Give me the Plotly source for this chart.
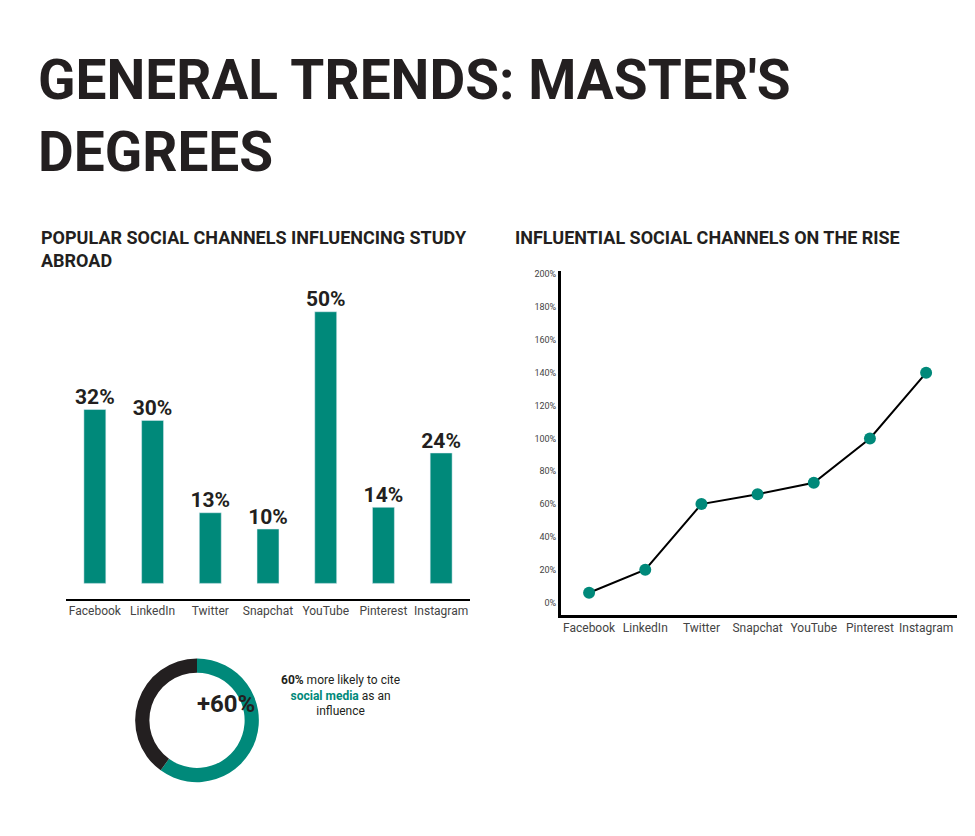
import plotly.graph_objects as go

W, H = 975, 836
TEAL = "#00897a"
INK = "#231f20"
FONT = "Roboto, Arial"

channels = ["Facebook", "LinkedIn", "Twitter", "Snapchat", "YouTube", "Pinterest", "Instagram"]
bar_values = [32, 30, 13, 10, 50, 14, 24]
rise_values = [6, 20, 60, 66, 73, 100, 140]
donut_values = [60, 40]
y_ticks = list(range(0, 201, 20))

# the page sits about 8px in from the window's corner
OFF = 8


def px_x(x):
    return (x - OFF) / W


def px_y(y):
    return 1 - (y - OFF) / H


fig = go.Figure()

fig.add_trace(go.Bar(
    x=channels, y=bar_values, marker_color=TEAL, width=0.38,
    xaxis="x", yaxis="y", showlegend=False,
))
fig.add_trace(go.Scatter(
    x=channels, y=bar_values, mode="text", text=[f"{v}%" for v in bar_values],
    textposition="top center", cliponaxis=False,
    textfont=dict(family=FONT, size=21, color=INK, weight="bold"),
    xaxis="x", yaxis="y", showlegend=False,
))

fig.add_trace(go.Scatter(
    x=channels, y=rise_values, mode="lines+markers",
    line=dict(color="black", width=2),
    marker=dict(color=TEAL, size=12),
    xaxis="x2", yaxis="y2", showlegend=False,
))

fig.add_trace(go.Pie(
    values=donut_values, hole=0.77, sort=False, direction="clockwise", rotation=0,
    marker=dict(colors=[TEAL, INK]), textinfo="none", hoverinfo="skip",
    domain=dict(x=[px_x(135), px_x(259)], y=[px_y(782), px_y(658)]),
    showlegend=False,
))

fig.update_layout(
    width=W, height=H, margin=dict(l=0, r=0, t=0, b=0),
    paper_bgcolor="white", plot_bgcolor="white",
    font=dict(family=FONT, color=INK),
    xaxis=dict(domain=[px_x(66), px_x(470)], showline=True, linecolor="black", linewidth=2,
               ticks="", showgrid=False, tickangle=0, tickfont=dict(size=12, color="#444"), anchor="y"),
    yaxis=dict(domain=[px_y(598), px_y(256)], range=[-2.8, 60], visible=False, showgrid=False),
    xaxis2=dict(domain=[px_x(561), px_x(957)], range=[-0.5, 6.55], showline=True, linecolor="black",
                linewidth=3, ticks="", showgrid=False, tickangle=0, tickfont=dict(size=12, color="#444"),
                anchor="y2"),
    yaxis2=dict(domain=[px_y(614), px_y(270)], range=[-7.3, 201.8], showline=True, linecolor="black",
                linewidth=3, showgrid=False, zeroline=False, tickmode="array", tickvals=y_ticks,
                ticktext=[f"{t}%" for t in y_ticks],
                tickfont=dict(size=9, color="#444"), ticks="", anchor="x2"),
)

annotations = [
    dict(x=px_x(36), y=px_y(44), text="GENERAL TRENDS: MASTER'S<br>DEGREES", align="left",
         font=dict(size=55, weight="bold", color=INK)),
    dict(x=px_x(39), y=px_y(224), text="POPULAR SOCIAL CHANNELS INFLUENCING STUDY<br>ABROAD", align="left",
         font=dict(size=18, weight="bold", color=INK)),
    dict(x=px_x(513), y=px_y(224), text="INFLUENTIAL SOCIAL CHANNELS ON THE RISE", align="left",
         font=dict(size=18, weight="bold", color=INK)),
]
for a in annotations:
    fig.add_annotation(xref="paper", yref="paper", xanchor="left", yanchor="top", showarrow=False, **a)

fig.add_annotation(xref="paper", yref="paper", x=px_x(195), y=px_y(720), showarrow=False,
                   text="+60%", font=dict(size=24, weight="bold", color=INK))
fig.add_annotation(xref="paper", yref="paper", x=px_x(340), y=px_y(720), showarrow=False, align="center",
                   text=f"<b>60%</b> more likely to cite<br><b><span style='color:{TEAL}'>social media</span></b> as an<br>influence",
                   font=dict(size=12, color=INK))

fig.write_html("out.html")
